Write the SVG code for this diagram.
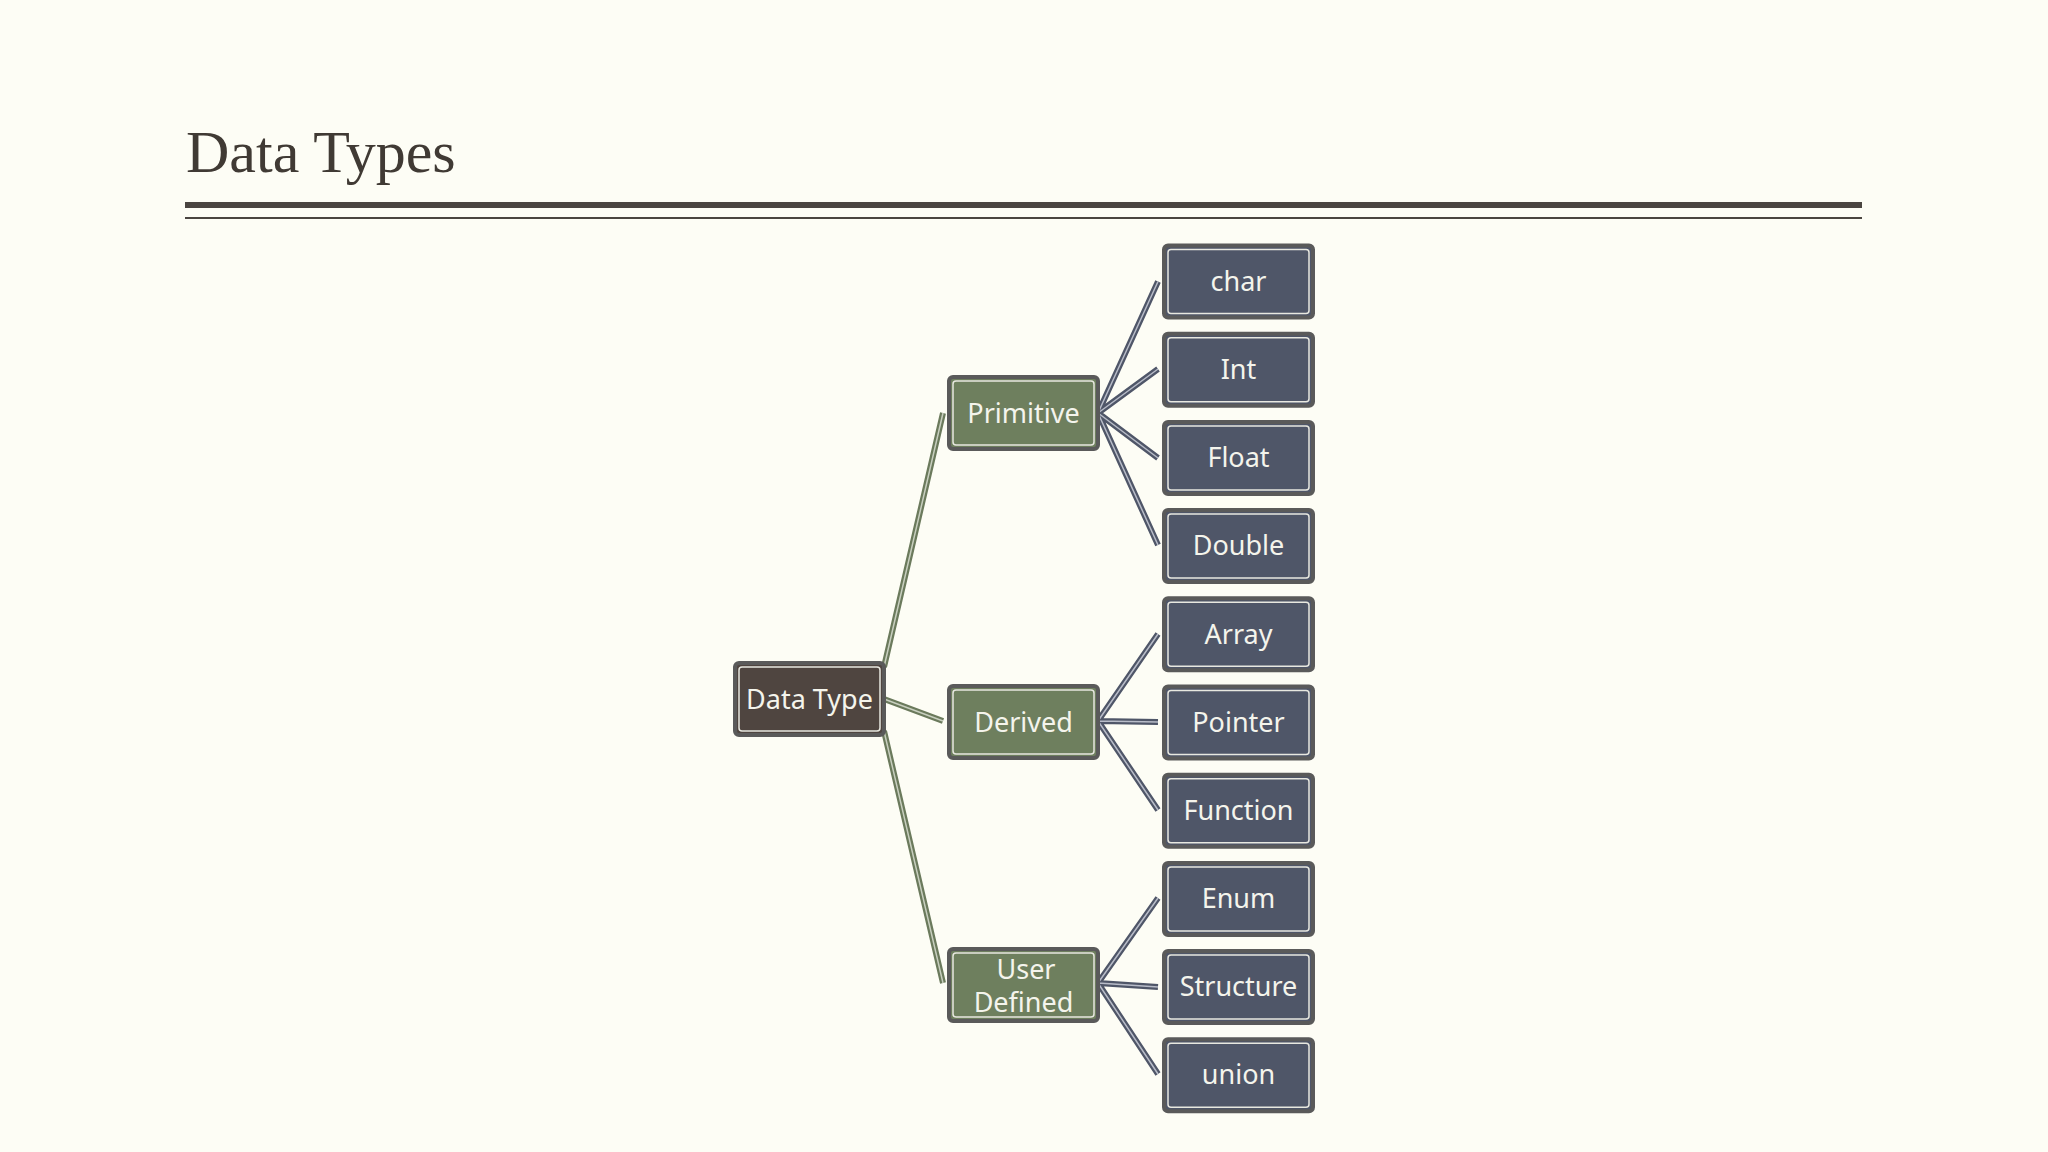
<svg xmlns="http://www.w3.org/2000/svg" width="2048" height="1152" viewBox="0 0 2048 1152">
<defs>
<style>
.bx{stroke:#5a5a5a;stroke-width:4}
.in{fill:none;stroke:#e8e8e0;stroke-width:1.5}
.t{font-family:"Noto Sans","Open Sans",sans-serif;font-size:27px;fill:#f4f4ec;text-anchor:middle}
.cg{stroke:#6b7a5c;stroke-width:6;fill:none}
.cgi{stroke:#c8cfbf;stroke-width:1.5;fill:none}
.cb{stroke:#4f5668;stroke-width:6;fill:none}
.cbi{stroke:#b8bcc8;stroke-width:1.5;fill:none}
</style>
</defs>
<rect width="2048" height="1152" fill="#fdfdf5"/>
<text x="186" y="172" font-family="Liberation Serif,serif" font-size="60" fill="#403a34">Data Types</text>
<rect x="185" y="202" width="1677" height="6" fill="#4a4540"/>
<rect x="185" y="217" width="1677" height="2" fill="#4a4540"/>
<g id="connectors">
<path class="cg" d="M884 667 L943 413 M884 699 L943 721 M884 731 L943 983"/>
<path class="cgi" d="M884 667 L943 413 M884 699 L943 721 M884 731 L943 983"/>
<path class="cb" d="M1098 413 L1158 281.5 M1098 413 L1158 369 M1098 413 L1158 458 M1098 413 L1158 545 M1098 721 L1158 634 M1098 721 L1158 722 M1098 721 L1158 810 M1098 983 L1158 898 M1098 983 L1158 987 M1098 983 L1158 1074"/>
<path class="cbi" d="M1098 413 L1158 281.5 M1098 413 L1158 369 M1098 413 L1158 458 M1098 413 L1158 545 M1098 721 L1158 634 M1098 721 L1158 722 M1098 721 L1158 810 M1098 983 L1158 898 M1098 983 L1158 987 M1098 983 L1158 1074"/>
</g>
<g id="datatype"><rect class="bx" x="735" y="663" width="149" height="72" rx="4" fill="#4f4540"/><rect class="in" x="739" y="667" width="141" height="64" rx="3"/><text class="t" x="809.5" y="709">Data Type</text></g>
<g id="primitive"><rect class="bx" x="949" y="377" width="149" height="72" rx="4" fill="#6e7f5e"/><rect class="in" x="953" y="381" width="141" height="64" rx="3"/><text class="t" x="1023.5" y="423">Primitive</text></g>
<g id="derived"><rect class="bx" x="949" y="686" width="149" height="72" rx="4" fill="#6e7f5e"/><rect class="in" x="953" y="690" width="141" height="64" rx="3"/><text class="t" x="1023.5" y="732">Derived</text></g>
<g id="userdefined"><rect class="bx" x="949" y="949" width="149" height="72" rx="4" fill="#6e7f5e"/><rect class="in" x="953" y="953" width="141" height="64" rx="3"/><text class="t" x="1026" y="979">User</text><text class="t" x="1023.5" y="1012">Defined</text></g>
<g id="char"><rect class="bx" x="1164" y="245.5" width="149" height="72" rx="4" fill="#4f5668"/><rect class="in" x="1168" y="249.5" width="141" height="64" rx="3"/><text class="t" x="1238.5" y="291">char</text></g>
<g id="int"><rect class="bx" x="1164" y="333.7" width="149" height="72" rx="4" fill="#4f5668"/><rect class="in" x="1168" y="337.7" width="141" height="64" rx="3"/><text class="t" x="1238.5" y="379">Int</text></g>
<g id="float"><rect class="bx" x="1164" y="421.9" width="149" height="72" rx="4" fill="#4f5668"/><rect class="in" x="1168" y="425.9" width="141" height="64" rx="3"/><text class="t" x="1238.5" y="467">Float</text></g>
<g id="double"><rect class="bx" x="1164" y="510.1" width="149" height="72" rx="4" fill="#4f5668"/><rect class="in" x="1168" y="514.1" width="141" height="64" rx="3"/><text class="t" x="1238.5" y="555">Double</text></g>
<g id="array"><rect class="bx" x="1164" y="598.3" width="149" height="72" rx="4" fill="#4f5668"/><rect class="in" x="1168" y="602.3" width="141" height="64" rx="3"/><text class="t" x="1238.5" y="644">Array</text></g>
<g id="pointer"><rect class="bx" x="1164" y="686.5" width="149" height="72" rx="4" fill="#4f5668"/><rect class="in" x="1168" y="690.5" width="141" height="64" rx="3"/><text class="t" x="1238.5" y="732">Pointer</text></g>
<g id="function"><rect class="bx" x="1164" y="774.7" width="149" height="72" rx="4" fill="#4f5668"/><rect class="in" x="1168" y="778.7" width="141" height="64" rx="3"/><text class="t" x="1238.5" y="820">Function</text></g>
<g id="enum"><rect class="bx" x="1164" y="862.9" width="149" height="72" rx="4" fill="#4f5668"/><rect class="in" x="1168" y="866.9" width="141" height="64" rx="3"/><text class="t" x="1238.5" y="908">Enum</text></g>
<g id="structure"><rect class="bx" x="1164" y="951.1" width="149" height="72" rx="4" fill="#4f5668"/><rect class="in" x="1168" y="955.1" width="141" height="64" rx="3"/><text class="t" x="1238.5" y="996">Structure</text></g>
<g id="union"><rect class="bx" x="1164" y="1039.3" width="149" height="72" rx="4" fill="#4f5668"/><rect class="in" x="1168" y="1043.3" width="141" height="64" rx="3"/><text class="t" x="1238.5" y="1084">union</text></g>
</svg>
